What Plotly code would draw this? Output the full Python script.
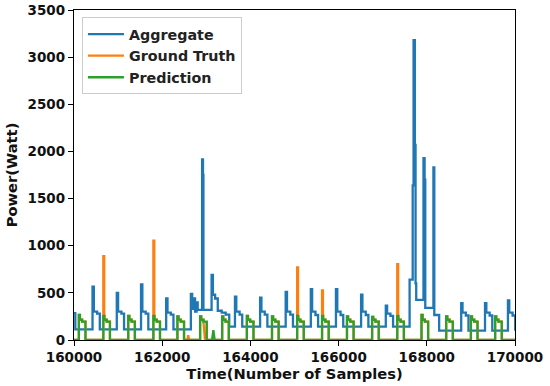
import plotly.graph_objects as go

# ---------------- data ----------------
# Aggregate: recurring appliance cycles (start sample, peak W, plateau1 W, plateau2 W, base W)
agg_cycle_start = [160420, 160970, 161520, 162090, 163650, 164220, 164800,
                   165370, 165940, 166510, 167070, 168780, 169320, 169840]
agg_cycle_peak = [565, 500, 590, 440, 460, 450, 510, 540, 540, 480, 365, 390, 390, 420]
agg_cycle_p1 = [300, 300, 300, 290, 300, 300, 300, 300, 300, 300, 280, 290, 290, 290]
agg_cycle_p2 = [280, 280, 280, 270, 270, 270, 270, 265, 265, 265, 255, 260, 260, 260]
agg_cycle_base = [113, 113, 113, 113, 141, 141, 141, 141, 141, 141, 141, 99, 99, 99]
agg_cycle_dur = [30, 75, 60]  # samples at peak, plateau1, plateau2

# Aggregate irregular segments (sample, watt) step breakpoints
agg_extra_t = [160000, 160030,
               162650, 162680, 162720, 162745, 162780, 162805, 162905, 162925,
               162935, 163120, 163150, 163200, 163260, 163350, 163440, 163520,
               167610, 167680, 167700, 167730, 167745, 167760, 167925, 167950,
               167965, 168150, 168170, 168280]
agg_extra_v = [285, 113,
               490, 330, 440, 300, 400, 320, 1915, 1750,
               320, 690, 480, 440, 310, 290, 270, 141,
               640, 1640, 3180, 2070, 600, 425, 1930, 1700,
               340, 1830, 265, 99]

# Prediction cycles
pred_cycle_start = [160110, 160665, 161230, 161800, 162345, 162860, 163360, 163920,
                    164490, 165060, 165625, 166190, 166760, 167330, 167880, 168440,
                    169000, 169550]
pred_cycle_peak = [265, 255, 255, 255, 250, 250, 250, 255, 250, 255, 255, 250,
                   245, 255, 265, 250, 250, 250]
pred_cycle_p1 = 215
pred_cycle_p2 = 195
pred_cycle_dur = [25, 50, 75]
pred_bump_t = [163130, 163160, 163190]
pred_bump_v = [0, 105, 0]

# Ground truth: same cycles with spikes
gt_cycle_peak = [265, 890, 255, 1055, 250, 250, 250, 255, 250, 770, 525, 250,
                 245, 805, 265, 250, 250, 250]
gt_spike_dur = 20
gt_bump_t = [162570, 162590, 162610, 162970, 162990, 163010]
gt_bump_v = [0, 50, 0, 0, 50, 0]

X_END = 170000


def step_vertices(breaks, end):
    """Turn sorted (t, v) step breakpoints into polyline vertices."""
    xs, ys = [], []
    prev = None
    for t, v in breaks:
        if prev is not None:
            xs.append(t)
            ys.append(prev)
        xs.append(t)
        ys.append(v)
        prev = v
    xs.append(end)
    ys.append(prev)
    return xs, ys


def merge_bumps(xs, ys, bt, bv):
    res = list(zip(xs, ys))
    for i in range(0, len(bt), 3):
        seg = list(zip(bt[i:i + 3], bv[i:i + 3]))
        t0 = seg[0][0]
        idx = next(k for k, p in enumerate(res) if p[0] > t0)
        res[idx:idx] = seg
    return [p[0] for p in res], [p[1] for p in res]


# aggregate breakpoints
agg_breaks = list(zip(agg_extra_t, agg_extra_v))
d0, d1, d2 = agg_cycle_dur
for t, pk, p1, p2, b in zip(agg_cycle_start, agg_cycle_peak, agg_cycle_p1,
                            agg_cycle_p2, agg_cycle_base):
    agg_breaks += [(t, pk), (t + d0, p1), (t + d0 + d1, p2), (t + d0 + d1 + d2, b)]
agg_breaks.sort()
agg_x, agg_y = step_vertices(agg_breaks, X_END)

# prediction breakpoints
e0, e1, e2 = pred_cycle_dur
pred_breaks = [(160000, 0)]
for t, pk in zip(pred_cycle_start, pred_cycle_peak):
    pred_breaks += [(t, pk), (t + e0, pred_cycle_p1), (t + e0 + e1, pred_cycle_p2),
                    (t + e0 + e1 + e2, 0)]
pred_x, pred_y = step_vertices(pred_breaks, X_END)
pred_x, pred_y = merge_bumps(pred_x, pred_y, pred_bump_t, pred_bump_v)

# ground truth breakpoints
gt_breaks = [(160000, 0)]
for t, pk, gk in zip(pred_cycle_start, pred_cycle_peak, gt_cycle_peak):
    gt_breaks += [(t, gk), (t + gt_spike_dur, pk), (t + e0, pred_cycle_p1),
                  (t + e0 + e1, pred_cycle_p2), (t + e0 + e1 + e2, 0)]
gt_x, gt_y = step_vertices(gt_breaks, X_END)
gt_x, gt_y = merge_bumps(gt_x, gt_y, gt_bump_t, gt_bump_v)

# ---------------- figure ----------------
FONT = "DejaVu Sans"
fig = go.Figure()
fig.add_trace(go.Scatter(x=agg_x, y=agg_y, mode="lines", name="<b>Aggregate</b>",
                         line=dict(color="#1f77b4", width=2.3), legendgroup="a"))
fig.add_trace(go.Scatter(x=gt_x, y=gt_y, mode="lines", name="<b>Ground Truth</b>",
                         line=dict(color="#ff7f0e", width=2.3), legendgroup="b"))
fig.add_trace(go.Scatter(x=pred_x, y=pred_y, mode="lines", name="<b>Prediction</b>",
                         line=dict(color="#2ca02c", width=2.3), legendgroup="c"))

axis_common = dict(showline=True, linecolor="black", linewidth=1.3, mirror=True,
                   ticks="outside", ticklen=5, tickwidth=1.3, tickcolor="black",
                   showgrid=False, zeroline=False, automargin=False,
                   tickfont=dict(family=FONT, size=13.5, color="#111111"))

xt = [160000, 162000, 164000, 166000, 168000, 170000]
yt = list(range(0, 3501, 500))
fig.update_xaxes(range=[160000, X_END], tickvals=xt,
                 ticktext=["<b>%d</b>" % v for v in xt],
                 title=dict(text="<b>Time(Number of Samples)</b>",
                            font=dict(family=FONT, size=14.7, color="#111111"), standoff=4),
                 **axis_common)
fig.update_yaxes(range=[0, 3500], tickvals=yt,
                 ticktext=["<b>%d</b>" % v for v in yt],
                 title=dict(text="<b>Power(Watt)</b>",
                            font=dict(family=FONT, size=14.7, color="#111111"), standoff=6),
                 **axis_common)

fig.update_layout(
    width=550, height=386,
    margin=dict(l=74, r=35, t=10, b=46),
    plot_bgcolor="white", paper_bgcolor="white",
    showlegend=True,
    legend=dict(x=0.018, y=0.978, xanchor="left", yanchor="top",
                bgcolor="rgba(255,255,255,0.85)", bordercolor="#cccccc", borderwidth=1,
                font=dict(family=FONT, size=14.3, color="#222222"),
                itemwidth=36, traceorder="grouped", tracegroupgap=0),
)

# remove the default page-body margin so the figure sits at the window's top-left
fig.write_html("out.html", config={"displayModeBar": False},
               post_script="document.body.style.margin='0px';document.body.style.overflow='hidden';")
